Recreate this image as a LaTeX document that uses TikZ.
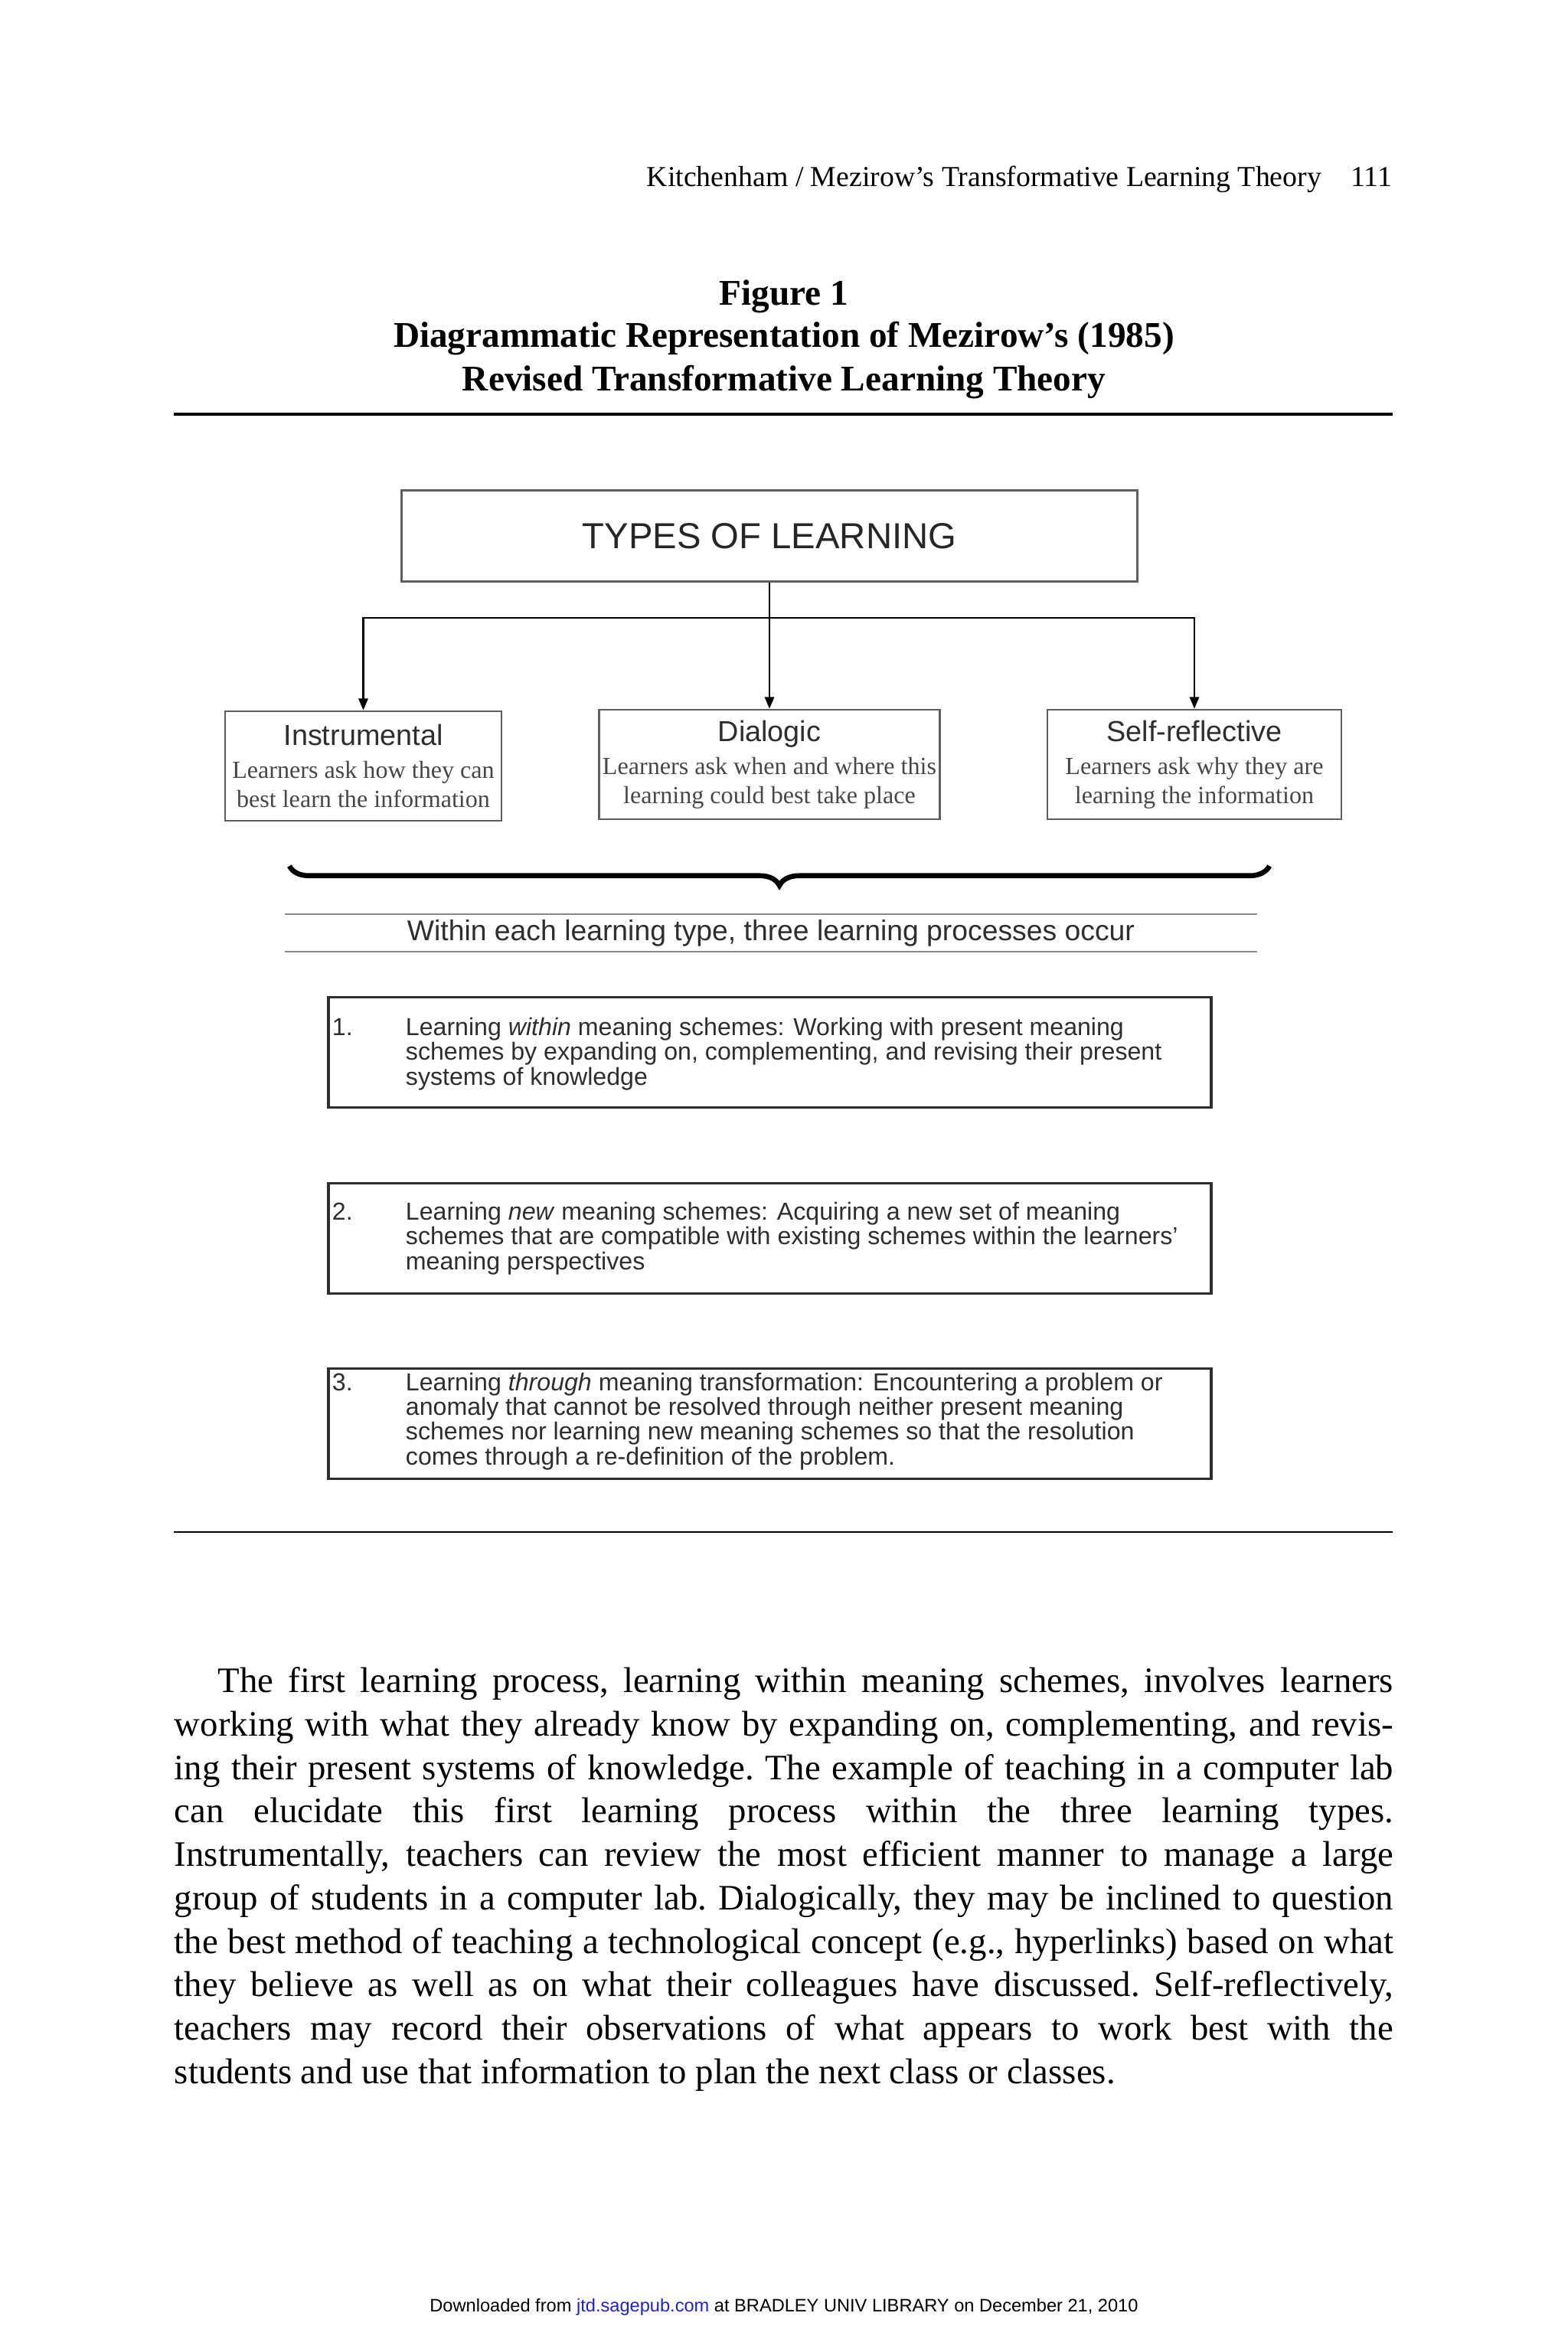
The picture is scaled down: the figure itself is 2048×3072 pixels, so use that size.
\documentclass[tikz,border=0pt]{standalone}
\usepackage{fontspec}
\setmainfont{Liberation Serif}
\setsansfont{Liberation Sans}
\usetikzlibrary{arrows.meta, positioning, decorations.pathreplacing, calc}
\definecolor{mBox}{HTML}{5E5E5E}
\definecolor{mInk}{HTML}{2E2E2E}
\definecolor{mSoft}{HTML}{474747}
\definecolor{mRule}{HTML}{8A8A8A}
\definecolor{mLink}{HTML}{1E1EE0}
\newcommand{\pxu}{0.0744mm}
\newlength{\bodyw}
\setlength{\bodyw}{118.45mm}
\newcommand{\jline}[1]{\hbox to \bodyw{#1}}

\begin{document}
\begin{tikzpicture}[x=0.0744mm, y=-0.0744mm,
      tb/.style={draw=mBox, line width=0.6pt, inner sep=0pt, align=center,
                 minimum height=143*\pxu, font=\fontsize{6.8}{8}\selectfont, text=mSoft},
      pb/.style={draw=mInk, line width=0.75pt, inner sep=0pt,
                 minimum width=1153*\pxu, minimum height=144*\pxu},
      pt/.style={font=\sffamily\fontsize{6.8}{6.8}\selectfont, text=mInk,
                 inner sep=0pt, align=left, anchor=base west},
      conn/.style={-{Triangle[length=3.2pt,width=2.6pt]}, line width=0.45pt}]
    \fill[white] (0,0) rectangle (2048,3072);
    \useasboundingbox (0,0) rectangle (2048,3072);

    % running head and caption
    \node[anchor=base east, inner sep=0pt, font=\fontsize{8}{9}\selectfont] (pg) at (1819,243) {111};
    \node[anchor=base east, inner sep=0pt, font=\fontsize{8}{9}\selectfont] (rh) at (1727,243)
      {Kitchenham / Mezirow’s Transformative Learning Theory};
    \node[anchor=base, inner sep=0pt, font=\bfseries\fontsize{10}{12}\selectfont] (cap1) at (1024,398) {Figure 1};
    \node[anchor=base, inner sep=0pt, font=\bfseries\fontsize{10}{12}\selectfont] (cap2) at (1024,453)
      {Diagrammatic Representation of Mezirow’s (1985)};
    \node[anchor=base, inner sep=0pt, font=\bfseries\fontsize{10}{12}\selectfont] (cap3) at (1024,510)
      {Revised Transformative Learning Theory};
    \draw[line width=0.85pt] (227,541) -- (1819,541);

    % types of learning
    \node[draw=mBox, line width=0.6pt, minimum width=961*\pxu, minimum height=119*\pxu,
          font=\sffamily\fontsize{10}{12}\selectfont, text=black!85] (types) at (1005,700) {TYPES OF LEARNING};
    \node[tb, minimum width=361*\pxu] (instr) at (474.5,1000.5)
      {{\sffamily\fontsize{8}{9}\selectfont\color{mInk}Instrumental}\\[1.2pt]
       Learners ask how they can\\best learn the information};
    \node[tb, minimum width=445*\pxu] (dialog) at (1005,998.5)
      {{\sffamily\fontsize{8}{9}\selectfont\color{mInk}Dialogic}\\[1.2pt]
       Learners ask when and where this\\learning could best take place};
    \node[tb, minimum width=384*\pxu] (selfref) at (1560,998.5)
      {{\sffamily\fontsize{8}{9}\selectfont\color{mInk}Self-reflective}\\[1.2pt]
       Learners ask why they are\\learning the information};
    \coordinate (split) at (1005,807);
    \draw[conn] (types.south) -- (dialog.north);
    \draw[conn] (split) -| (instr.north);
    \draw[conn] (split) -| (selfref.north);

    % brace and the three processes
    \coordinate (brL) at (378,1131);
    \coordinate (brR) at (1658,1131);
    \draw[decorate, decoration={brace, mirror, amplitude=1.9mm}, line width=1.4pt] (brL) -- (brR);
    \draw[mRule, line width=0.6pt] (372,1194) -- (1642,1194);
    \draw[mRule, line width=0.6pt] (372,1243) -- (1642,1243);
    \node[font=\sffamily\fontsize{7.9}{9}\selectfont, text=mInk] (within) at (1007,1219)
      {Within each learning type, three learning processes occur};

    \node[pb] (proc1) at (1005.5,1374.5) {};
    \node[pb] (proc2) at (1005.5,1617.5) {};
    \node[pb] (proc3) at (1005.5,1859.5) {};
    \node[pt] (n1) at (433,1352) {1.};
    \node[pt] (t1) at (529,1417) {Learning \textit{within} meaning schemes: Working with present meaning\\
      schemes by expanding on, complementing, and revising their present\\systems of knowledge};
    \node[pt] (n2) at (433,1593) {2.};
    \node[pt] (t2) at (529,1658) {Learning \textit{new} meaning schemes: Acquiring a new set of meaning\\
      schemes that are compatible with existing schemes within the learners'\\meaning perspectives};
    \node[pt] (n3) at (433,1816) {3.};
    \node[pt] (t3) at (529,1913) {Learning \textit{through} meaning transformation: Encountering a problem or\\
      anomaly that cannot be resolved through neither present meaning\\
      schemes nor learning new meaning schemes so that the resolution\\
      comes through a re-definition of the problem.};
    \draw[line width=0.5pt] (227,2001) -- (1819,2001);

    % running text
    \node[anchor=north west, inner sep=0pt, text width=1592*\pxu, font=\fontsize{9.9}{12}\selectfont] (body) at (227,2177)
      {\frenchspacing\spaceskip=0.25em plus 0.25em minus 0.17em\relax
       \jline{\hspace*{12pt}The first learning process, learning within meaning schemes, involves learners}
       \jline{working with what they already know by expanding on, complementing, and revis-}
       \jline{ing their present systems of knowledge. The example of teaching in a computer lab}
       \jline{can elucidate this first learning process within the three learning types.}
       \jline{Instrumentally, teachers can review the most efficient manner to manage a large}
       \jline{group of students in a computer lab. Dialogically, they may be inclined to question}
       \jline{the best method of teaching a technological concept (e.g., hyperlinks) based on what}
       \jline{they believe as well as on what their colleagues have discussed. Self-reflectively,}
       \jline{teachers may record their observations of what appears to work best with the}
       \hbox{students and use that information to plan the next class or classes.}};

    \node[anchor=base, inner sep=0pt, font=\sffamily\fontsize{5}{6}\selectfont] (dl) at (1024,3019)
      {Downloaded from \textcolor{mLink}{jtd.sagepub.com} at BRADLEY UNIV LIBRARY on December 21, 2010};
  \end{tikzpicture}
\end{document}
